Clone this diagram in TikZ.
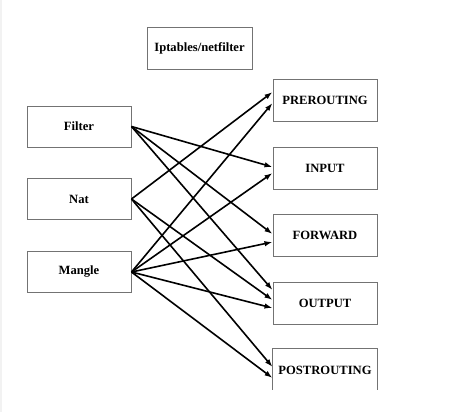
\documentclass[tikz,border=0pt]{standalone}
\usepackage{fontspec}
\setmainfont{Liberation Serif}
\usetikzlibrary{arrows.meta,positioning}

\begin{document}
\begin{tikzpicture}[x=1pt, y=-1pt,
    every node/.style={font=\fontsize{12.6}{15}\selectfont\bfseries},
    tablebox/.style={draw=gray!90!black, line width=1pt, minimum width=104pt, minimum height=41pt, inner sep=0pt},
    chainbox/.style={tablebox, minimum height=42pt},
    hook/.style={-{Latex[length=8pt,width=5.5pt]}, line width=1.6pt}]
    % Frame
    \useasboundingbox (0,0) rectangle (454,412);
    \fill[gray!10] (0,0) rectangle (2,412);
    % Title
    \node[tablebox, minimum width=105pt] (ipt) at (199.5,48.5) {Iptables/netfilter};
    % Tables
    \node[tablebox] (filter) at (79,126.5) {Filter};
    \node[tablebox] (nat) at (79,199) {Nat};
    \node[tablebox] (mangle) at (79,272) {Mangle};
    % Chains
    \node[chainbox] (pre) at (325,100) {PREROUTING};
    \node[chainbox] (input) at (325,168) {INPUT};
    \node[chainbox] (fwd) at (325,235.5) {FORWARD};
    \node[chainbox] (out) at (325,303) {OUTPUT};
    \node[chainbox, draw=none] (post) at (325,370) {POSTROUTING};
    \draw[gray!90!black, line width=1pt] ([yshift=2pt]post.south west) -- (post.north west) -- (post.north east) -- ([yshift=2pt]post.south east);
    % Filter
    \draw[hook] (filter.east) -- ([yshift=1pt]input.west);
    \draw[hook] (filter.east) -- ([yshift=1.5pt]fwd.west);
    \draw[hook] (filter.east) -- ([yshift=13pt]out.west);
    % Nat
    \draw[hook] (nat.east) -- ([yshift=8pt]pre.west);
    \draw[hook] (nat.east) -- ([yshift=3pt]out.west);
    \draw[hook] (nat.east) -- ([yshift=3pt]post.west);
    % Mangle
    \draw[hook] (mangle.east) -- ([yshift=-3pt]pre.west);
    \draw[hook] (mangle.east) -- ([yshift=-5pt]input.west);
    \draw[hook] (mangle.east) -- ([yshift=-6.5pt]fwd.west);
    \draw[hook] (mangle.east) -- ([yshift=-5pt]out.west);
    \draw[hook] (mangle.east) -- ([yshift=-8pt]post.west);
\end{tikzpicture}
\end{document}
